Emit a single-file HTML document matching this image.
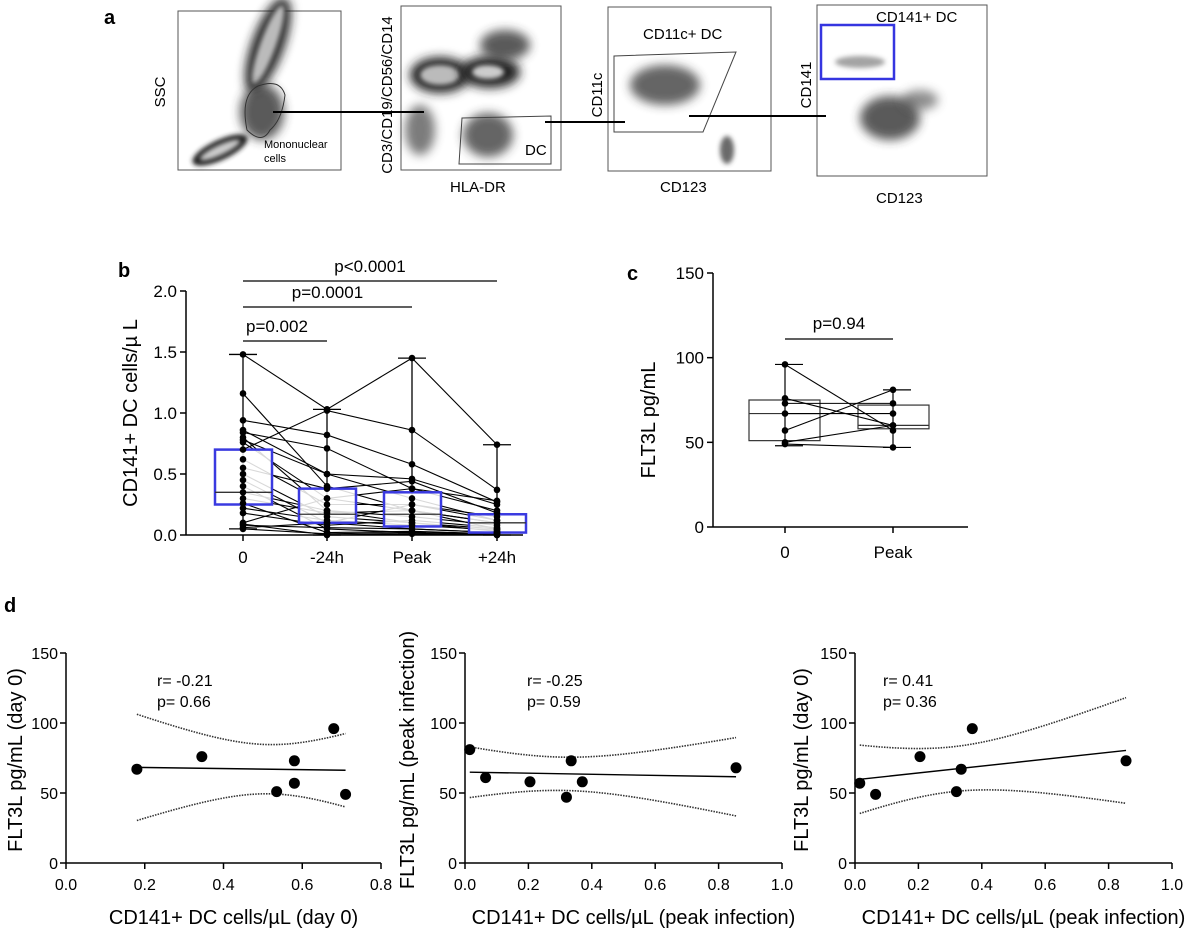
<!DOCTYPE html>
<html><head><meta charset="utf-8"><style>
html,body{margin:0;padding:0;background:#fff;}
svg{display:block;font-family:"Liberation Sans",Arial,sans-serif;}
</style></head><body>
<svg id="fig" width="1200" height="932" viewBox="0 0 1200 932" xmlns="http://www.w3.org/2000/svg">
<defs>
<filter id="bl" x="-50%" y="-50%" width="200%" height="200%"><feGaussianBlur stdDeviation="5"/></filter>
<filter id="bl2" x="-50%" y="-50%" width="200%" height="200%"><feGaussianBlur stdDeviation="2.5"/></filter>
</defs>
<g id="panelA">
<text x="104" y="24" font-size="20" font-weight="bold">a</text>
<g>
<rect x="178" y="11" width="163" height="159" fill="#fff" stroke="#555" stroke-width="1"/>
<ellipse cx="268" cy="45" rx="16" ry="50" fill="#222" filter="url(#bl)" transform="rotate(20 268 45)"/>
<ellipse cx="268" cy="45" rx="8" ry="42" fill="#bbb" filter="url(#bl2)" transform="rotate(20 268 45)"/>
<ellipse cx="262" cy="112" rx="22" ry="28" fill="#333" filter="url(#bl)" opacity="0.8"/>
<ellipse cx="220" cy="150" rx="30" ry="10" fill="#222" filter="url(#bl2)" transform="rotate(-25 220 150)"/>
<ellipse cx="220" cy="150" rx="22" ry="5" fill="#ccc" filter="url(#bl2)" transform="rotate(-25 220 150)"/>
<path d="M247 130 Q240 95 258 86 Q280 78 285 95 Q282 120 270 130 Q262 145 247 130Z" fill="none" stroke="#333"/>
<text x="264" y="148" font-size="11">Mononuclear</text>
<text x="264" y="162" font-size="11">cells</text>
<text transform="translate(165 92) rotate(-90)" text-anchor="middle" font-size="15">SSC</text>
</g>
<g>
<rect x="401" y="6" width="160" height="164" fill="#fff" stroke="#555"/>
<ellipse cx="440" cy="75" rx="30" ry="18" fill="#222" filter="url(#bl)"/>
<ellipse cx="440" cy="75" rx="20" ry="10" fill="#bbb" filter="url(#bl2)"/>
<ellipse cx="490" cy="72" rx="30" ry="16" fill="#222" filter="url(#bl)"/>
<ellipse cx="488" cy="72" rx="16" ry="7" fill="#ccc" filter="url(#bl2)"/>
<ellipse cx="505" cy="45" rx="25" ry="15" fill="#333" filter="url(#bl)" opacity="0.8"/>
<ellipse cx="420" cy="130" rx="15" ry="25" fill="#444" filter="url(#bl)" opacity="0.7"/>
<ellipse cx="488" cy="135" rx="25" ry="22" fill="#333" filter="url(#bl)" opacity="0.75"/>
<path d="M462 118 L551 116 L551 164 L459 164 Z" fill="none" stroke="#444"/>
<text x="525" y="155" font-size="15">DC</text>
<text x="450" y="192" font-size="15">HLA-DR</text>
<text transform="translate(392 95) rotate(-90)" text-anchor="middle" font-size="15">CD3/CD19/CD56/CD14</text>
</g>
<g>
<rect x="608" y="7" width="163" height="164" fill="#fff" stroke="#555"/>
<ellipse cx="665" cy="85" rx="35" ry="20" fill="#333" filter="url(#bl)" opacity="0.75"/>
<ellipse cx="727" cy="150" rx="7" ry="14" fill="#444" filter="url(#bl2)" opacity="0.8"/>
<path d="M614 56 L736 52 L703 132 L614 132 Z" fill="none" stroke="#444"/>
<text x="643" y="39" font-size="15">CD11c+ DC</text>
<text x="660" y="192" font-size="15">CD123</text>
<text transform="translate(602 95) rotate(-90)" text-anchor="middle" font-size="15">CD11c</text>
</g>
<g>
<rect x="817" y="5" width="170" height="171" fill="#fff" stroke="#555"/>
<ellipse cx="860" cy="62" rx="25" ry="6" fill="#666" filter="url(#bl2)" opacity="0.6"/>
<ellipse cx="890" cy="118" rx="30" ry="22" fill="#333" filter="url(#bl)" opacity="0.8"/>
<ellipse cx="920" cy="100" rx="18" ry="10" fill="#444" filter="url(#bl)" opacity="0.6"/>
<rect x="821" y="25" width="73" height="54" fill="none" stroke="#3535e0" stroke-width="2.5"/>
<text x="876" y="22" font-size="15">CD141+ DC</text>
<text x="876" y="203" font-size="15">CD123</text>
<text transform="translate(811 85) rotate(-90)" text-anchor="middle" font-size="15">CD141</text>
</g>
<line x1="273" y1="112" x2="424" y2="112" stroke="#000" stroke-width="2"/>
<line x1="545" y1="122" x2="625" y2="122" stroke="#000" stroke-width="2"/>
<line x1="689" y1="116" x2="826" y2="116" stroke="#000" stroke-width="2"/>
</g>
<g id="panelB"></g>
<g id="panelC"></g>
<g id="panelD"></g>
</svg>
<script>
// ---- Panel b data ----
const bCategories = ["0","-24h","Peak","+24h"];
const bDay0  = [1.48,1.16,0.94,0.86,0.84,0.80,0.78,0.76,0.70,0.62,0.55,0.50,0.45,0.40,0.35,0.30,0.26,0.22,0.18,0.10,0.09,0.08,0.06,0.05];
const bM24   = [1.03,0.40,0.82,0.50,0.71,0.20,0.50,0.30,1.02,0.25,0.38,0.15,0.10,0.05,0.20,0.18,0.02,0.12,0.08,0.30,0.00,0.06,0.10,0.01];
const bPeak  = [1.45,0.20,0.58,0.30,0.38,0.10,0.46,0.20,0.86,0.25,0.44,0.10,0.05,0.02,0.15,0.20,0.03,0.08,0.12,0.38,0.01,0.05,0.25,0.02];
const bP24   = [0.74,0.05,0.27,0.12,0.20,0.03,0.25,0.10,0.37,0.15,0.18,0.05,0.02,0.00,0.08,0.10,0.01,0.04,0.06,0.28,0.00,0.02,0.12,0.01];
const bQ1    = [0.25,0.10,0.07,0.02];
const bMed   = [0.35,0.17,0.17,0.10];
const bQ3    = [0.70,0.38,0.35,0.17];
const bMin   = [0.05,0.00,0.02,0.00];
const bMax   = [1.48,1.03,1.45,0.74];
const bTicks = [0,0.5,1.0,1.5,2.0];
const bTickLabels = ["0.0","0.5","1.0","1.5","2.0"];
const bSig = ["p=0.002","p=0.0001","p<0.0001"];
const bSigTo = [1,2,3];
// ---- Panel c data ----
const cCategories = ["0","Peak"];
const cDay0 = [96,76,73,67,57,50,49];
const cPeak = [57,60,73,67,81,60,47];
const cQ1 = [51,58], cMed=[67,60], cQ3=[75,72], cMin=[48,47], cMax=[96,81];
const cTicks = [0,50,100,150];
const cSig = "p=0.94";
// ---- Panel d data ----
const d1X = [0.18,0.345,0.535,0.58,0.58,0.68,0.71];
const d1Y = [67,76,51,73,57,96,49];
const d2X = [0.015,0.065,0.205,0.32,0.335,0.37,0.855];
const d2Y = [81,61,58,47,73,58,68];
const d3X = [0.015,0.065,0.205,0.32,0.335,0.37,0.855];
const d3Y = [57,49,76,51,67,96,73];
const dStats = [["r= -0.21","p= 0.66"],["r= -0.25","p= 0.59"],["r= 0.41","p= 0.36"]];
const d1XTicks = [0,0.2,0.4,0.6,0.8];
const d23XTicks = [0,0.2,0.4,0.6,0.8,1.0];
const dYTicks = [0,50,100,150];

const NS="http://www.w3.org/2000/svg";
function mk(parent,tag,attrs,txt){const e=document.createElementNS(NS,tag);for(const k in attrs)e.setAttribute(k,attrs[k]);if(txt!==undefined)e.textContent=txt;parent.appendChild(e);return e;}

// ===== Panel b =====
(function(){
const g=document.getElementById('panelB');
const y=v=>535-v*122;
const xs=[243,327,412,497];
const x=i=>xs[i];
let t=mk(g,'text',{x:118,y:277,'font-size':20,'font-weight':'bold'},'b');

mk(g,'line',{x1:186,y1:291,x2:186,y2:535,stroke:'#000','stroke-width':1.5});
mk(g,'line',{x1:186,y1:535,x2:523,y2:535,stroke:'#000','stroke-width':1.5});
bTicks.forEach((v,i)=>{mk(g,'line',{x1:180,y1:y(v),x2:186,y2:y(v),stroke:'#000','stroke-width':1.5});
 const l=mk(g,'text',{x:177,y:y(v)+6,'font-size':17,'text-anchor':'end'},bTickLabels[i]);
 });
bCategories.forEach((c,i)=>{mk(g,'line',{x1:x(i),y1:535,x2:x(i),y2:541,stroke:'#000','stroke-width':1.5});
 const l=mk(g,'text',{x:x(i),y:563,'font-size':17,'text-anchor':'middle'},c);
 });
const yt=mk(g,'text',{transform:'translate(137 413) rotate(-90)','font-size':20,'text-anchor':'middle'},'CD141+ DC cells/µ L');

const series=[bDay0,bM24,bPeak,bP24];
for(let s=0;s<bDay0.length;s++){
 let pts=series.map((arr,i)=>x(i)+','+y(arr[s])).join(' ');
 const pl=mk(g,'polyline',{points:pts,fill:'none',stroke:'#000','stroke-width':1.1});
 
}
bCategories.forEach((c,i)=>{
 mk(g,'line',{x1:x(i),y1:y(bMin[i]),x2:x(i),y2:y(bMax[i]),stroke:'#000','stroke-width':1.3});
 mk(g,'line',{x1:x(i)-14,y1:y(bMax[i]),x2:x(i)+14,y2:y(bMax[i]),stroke:'#000','stroke-width':1.3});
 mk(g,'line',{x1:x(i)-14,y1:y(bMin[i]),x2:x(i)+14,y2:y(bMin[i]),stroke:'#000','stroke-width':1.3});
 const b=mk(g,'rect',{x:x(i)-28,y:y(bQ3[i]),width:57,height:y(bQ1[i])-y(bQ3[i]),fill:'#fff','fill-opacity':0.85,stroke:'#3a3ae0','stroke-width':2.5});
 
 mk(g,'line',{x1:x(i)-28,y1:y(bMed[i]),x2:x(i)+29,y2:y(bMed[i]),stroke:'#333','stroke-width':1.3});
});
series.forEach((arr,i)=>arr.forEach(v=>{const p=mk(g,'circle',{cx:x(i),cy:y(v),r:3.3,fill:'#000'});
 }));
const lineY=[341,307,281];
bSig.forEach((s,k)=>{mk(g,'line',{x1:x(0),y1:lineY[k],x2:x(bSigTo[k]),y2:lineY[k],stroke:'#000','stroke-width':1.2});
 const l=mk(g,'text',{x:k==0?x(0)+3:(x(0)+x(bSigTo[k]))/2,y:lineY[k]-9,'font-size':17,'text-anchor':k==0?'start':'middle'},s);
 });
})();

// ===== Panel c =====
(function(){
const g=document.getElementById('panelC');
const y=v=>527-v*(254/150);
const xs=[785,893];const x=i=>xs[i];
let t=mk(g,'text',{x:627,y:280,'font-size':20,'font-weight':'bold'},'c');

mk(g,'line',{x1:713,y1:273,x2:713,y2:527,stroke:'#000','stroke-width':1.5});
mk(g,'line',{x1:713,y1:527,x2:968,y2:527,stroke:'#000','stroke-width':1.5});
cTicks.forEach(v=>{mk(g,'line',{x1:707,y1:y(v),x2:713,y2:y(v),stroke:'#000','stroke-width':1.5});
 const l=mk(g,'text',{x:704,y:y(v)+6,'font-size':17,'text-anchor':'end'},String(v));
 });
cCategories.forEach((c,i)=>{mk(g,'line',{x1:x(i),y1:527,x2:x(i),y2:533,stroke:'#000','stroke-width':1.5});
 const l=mk(g,'text',{x:x(i),y:558,'font-size':17,'text-anchor':'middle'},c);
 });
const yt=mk(g,'text',{transform:'translate(655 420) rotate(-90)','font-size':20,'text-anchor':'middle'},'FLT3L pg/mL');

cCategories.forEach((c,i)=>{
 const bx=i==0?x(i)-36:x(i)-35;
 const b=mk(g,'rect',{x:bx,y:y(cQ3[i]),width:71,height:y(cQ1[i])-y(cQ3[i]),fill:'none',stroke:'#333','stroke-width':1.2});
 
 mk(g,'line',{x1:bx,y1:y(cMed[i]),x2:bx+71,y2:y(cMed[i]),stroke:'#333','stroke-width':1.2});
 mk(g,'line',{x1:x(i),y1:y(cMin[i]),x2:x(i),y2:y(cMax[i]),stroke:'#000','stroke-width':1.2});
 mk(g,'line',{x1:x(i)-10,y1:y(cMax[i]),x2:x(i)+18,y2:y(cMax[i]),stroke:'#000','stroke-width':1.2});
 mk(g,'line',{x1:x(i)-10,y1:y(cMin[i]),x2:x(i)+18,y2:y(cMin[i]),stroke:'#000','stroke-width':1.2});
});
for(let s=0;s<cDay0.length;s++){
 const l=mk(g,'line',{x1:x(0),y1:y(cDay0[s]),x2:x(1),y2:y(cPeak[s]),stroke:'#000','stroke-width':1.1});
 }
[cDay0,cPeak].forEach((arr,i)=>arr.forEach(v=>{const p=mk(g,'circle',{cx:x(i),cy:y(v),r:3.3,fill:'#000'});
 }));
mk(g,'line',{x1:x(0),y1:339,x2:x(1),y2:339,stroke:'#000','stroke-width':1.2});
const sl=mk(g,'text',{x:(x(0)+x(1))/2,y:329,'font-size':17,'text-anchor':'middle'},cSig);

})();

// ===== Panel d =====
(function(){
const g=document.getElementById('panelD');
let t=mk(g,'text',{x:4,y:612,'font-size':20,'font-weight':'bold'},'d');

function scatter(ox,xmax,xlen,xs,ys,xticks,stats,xtitle,ytitle,ytx,txOff,name){
 const sg=mk(g,'g',{});
 
 const x=v=>ox+v/xmax*xlen; const y=v=>863-v*(210/150);
 mk(sg,'line',{x1:ox,y1:653,x2:ox,y2:863,stroke:'#000','stroke-width':1.5});
 mk(sg,'line',{x1:ox,y1:863,x2:ox+xlen,y2:863,stroke:'#000','stroke-width':1.5});
 dYTicks.forEach(v=>{mk(sg,'line',{x1:ox-6,y1:y(v),x2:ox,y2:y(v),stroke:'#000','stroke-width':1.5});
  const l=mk(sg,'text',{x:ox-8,y:y(v)+6,'font-size':16,'text-anchor':'end'},String(v));
  });
 xticks.forEach(v=>{mk(sg,'line',{x1:x(v),y1:863,x2:x(v),y2:869,stroke:'#000','stroke-width':1.5});
  const l=mk(sg,'text',{x:x(v),y:890,'font-size':16,'text-anchor':'middle'},v.toFixed(1));
  });
 const n=xs.length; const mx=xs.reduce((a,b)=>a+b)/n, my=ys.reduce((a,b)=>a+b)/n;
 let sxx=0,sxy=0;xs.forEach((v,i)=>{sxx+=(v-mx)**2;sxy+=(v-mx)*(ys[i]-my);});
 const b=sxy/sxx,a=my-b*mx; let sse=0;xs.forEach((v,i)=>{sse+=(ys[i]-a-b*v)**2;});
 const se=Math.sqrt(sse/(n-2)); const tc=2.571;
 const x0=Math.min(...xs),x1=Math.max(...xs);
 let up=[],lo=[];
 for(let k=0;k<=40;k++){const xv=x0+(x1-x0)*k/40;const h=tc*se*Math.sqrt(1/n+(xv-mx)**2/sxx);
  up.push(x(xv)+','+y(a+b*xv+h));lo.push(x(xv)+','+y(a+b*xv-h));}
 const u=mk(sg,'polyline',{points:up.join(' '),fill:'none',stroke:'#333','stroke-width':1.6,'stroke-dasharray':'1.5 1.2'});
 
 const lw=mk(sg,'polyline',{points:lo.join(' '),fill:'none',stroke:'#333','stroke-width':1.6,'stroke-dasharray':'1.5 1.2'});
 
 const rl=mk(sg,'line',{x1:x(x0),y1:y(a+b*x0),x2:x(x1),y2:y(a+b*x1),stroke:'#000','stroke-width':1.4});
 
 xs.forEach((v,i)=>{const p=mk(sg,'circle',{cx:x(v),cy:y(ys[i]),r:5.5,fill:'#000'});
  });
 const tx=ox+txOff;
 const r1=mk(sg,'text',{x:tx,y:686,'font-size':16},stats[0]);
 
 const r2=mk(sg,'text',{x:tx,y:707,'font-size':16},stats[1]);
 
 const xt=mk(sg,'text',{x:ox+xlen/2+10,y:924,'font-size':20,'text-anchor':'middle'},xtitle);
 
 const yt=mk(sg,'text',{transform:'translate('+ytx+' 760) rotate(-90)','font-size':20,'text-anchor':'middle'},ytitle);
 
}
scatter(66,0.8,315,d1X,d1Y,d1XTicks,dStats[0],'CD141+  DC cells/µL (day 0)','FLT3L pg/mL (day 0)',22,91,'scatter-1');
scatter(465,1.0,317,d2X,d2Y,d23XTicks,dStats[1],'CD141+  DC cells/µL (peak infection)','FLT3L pg/mL (peak infection)',414,62,'scatter-2');
scatter(855,1.0,317,d3X,d3Y,d23XTicks,dStats[2],'CD141+  DC cells/µL (peak infection)','FLT3L pg/mL (day 0)',808,28,'scatter-3');
})();
</script>
</body></html>
